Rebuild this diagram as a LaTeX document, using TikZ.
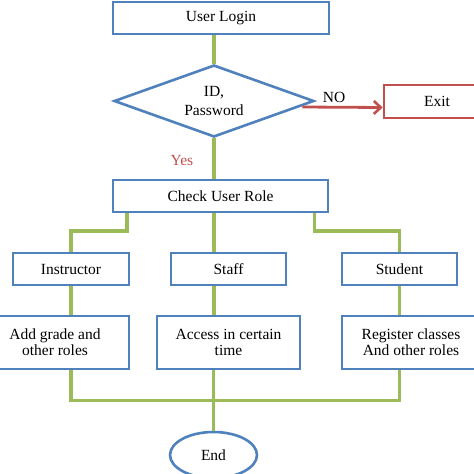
\documentclass[tikz,border=0pt]{standalone}
\usepackage{fontspec}
\setmainfont{Liberation Serif}
\usetikzlibrary{shapes.geometric,arrows.meta,calc}
\definecolor{boxblue}{RGB}{79,129,189}
\definecolor{lngreen}{RGB}{155,187,89}
\definecolor{exred}{RGB}{192,80,77}
\begin{document}
\begin{tikzpicture}[x=1pt,y=-1pt,
  every node/.style={font=\fontsize{15.5}{17}\selectfont},
  blk/.style={draw=boxblue,line width=2.6pt,fill=white,rectangle,inner sep=0pt,align=center},
  redblk/.style={draw=exred,line width=2.6pt,fill=white,rectangle,inner sep=0pt,align=center},
  twoline/.style={font=\fontsize{15.5}{16}\selectfont},
  conn/.style={draw=lngreen,line width=3.6pt},
  arr/.style={draw=exred,line width=2.8pt,-{Straight Barb[length=7pt,width=13pt,line width=2.6pt]}}]
\useasboundingbox (0,0) rectangle (474,474);
\clip (0,0) rectangle (474,474);
% nodes
\node[blk,minimum width=216pt,minimum height=32pt] (login) at (221,18) {User Login};
\node[blk,diamond,shape aspect=2.78,minimum width=200pt,minimum height=72pt,font=\fontsize{15.5}{18}\selectfont] (dia) at (214,101) {ID,\\[1pt]Password};
\node[redblk,minimum width=106pt,minimum height=33pt] (exit) at (437,101.5) {Exit};
\node (no) at (334,97) {NO};
\node[text=exred] (yes) at (182,160) {Yes};
\node[blk,minimum width=215pt,minimum height=32pt] (role) at (220.5,196) {Check User Role};
\node[blk,minimum width=116pt,minimum height=32pt] (instr) at (71,269) {Instructor};
\node[blk,minimum width=115pt,minimum height=32pt] (staff) at (228.5,269) {Staff};
\node[blk,minimum width=115pt,minimum height=32pt] (stud) at (399.5,269) {Student};
\node[blk,twoline,minimum width=148pt,minimum height=53pt] (add) at (55,342.5) {Add grade and\\other roles};
\node[blk,twoline,minimum width=143pt,minimum height=53pt] (acc) at (228.5,342.5) {Access in certain\\time};
\node[blk,twoline,minimum width=138pt,minimum height=53pt] (reg) at (411,342.5) {Register classes\\And other roles};
\node[draw=boxblue,line width=2.6pt,ellipse,fill=white,minimum width=87pt,minimum height=46pt,inner sep=0pt] (end) at (213.5,455) {End};
% connectors
\draw[conn] (dia.north |- login.south) -- (dia.north);
\draw[conn] (dia.south) -- (dia.south |- role.north);
\draw[arr] ([xshift=-13pt,yshift=-6pt]dia.east) -- ([yshift=-6pt]exit.west);
\draw[conn] ([xshift=15pt]role.south west) |- ($(instr.north)+(0,-21)$) -- (instr.north);
\draw[conn] (role.south -| dia.south) -- (staff.north -| dia.south);
\draw[conn] ([xshift=-15pt]role.south east) |- ($(stud.north)+(0,-21)$) -- (stud.north);
\draw[conn] (instr.south) -- (instr.south |- add.north);
\draw[conn] (staff.south -| dia.south) -- (acc.north -| dia.south);
\draw[conn] (stud.south) -- (stud.south |- reg.north);
\draw[conn] (instr.south |- add.south) -- ($(instr.south |- add.south)+(0,30)$) -| (stud.south |- reg.south);
\draw[conn] (acc.south -| end.north) -- (end.north);
\end{tikzpicture}
\end{document}
